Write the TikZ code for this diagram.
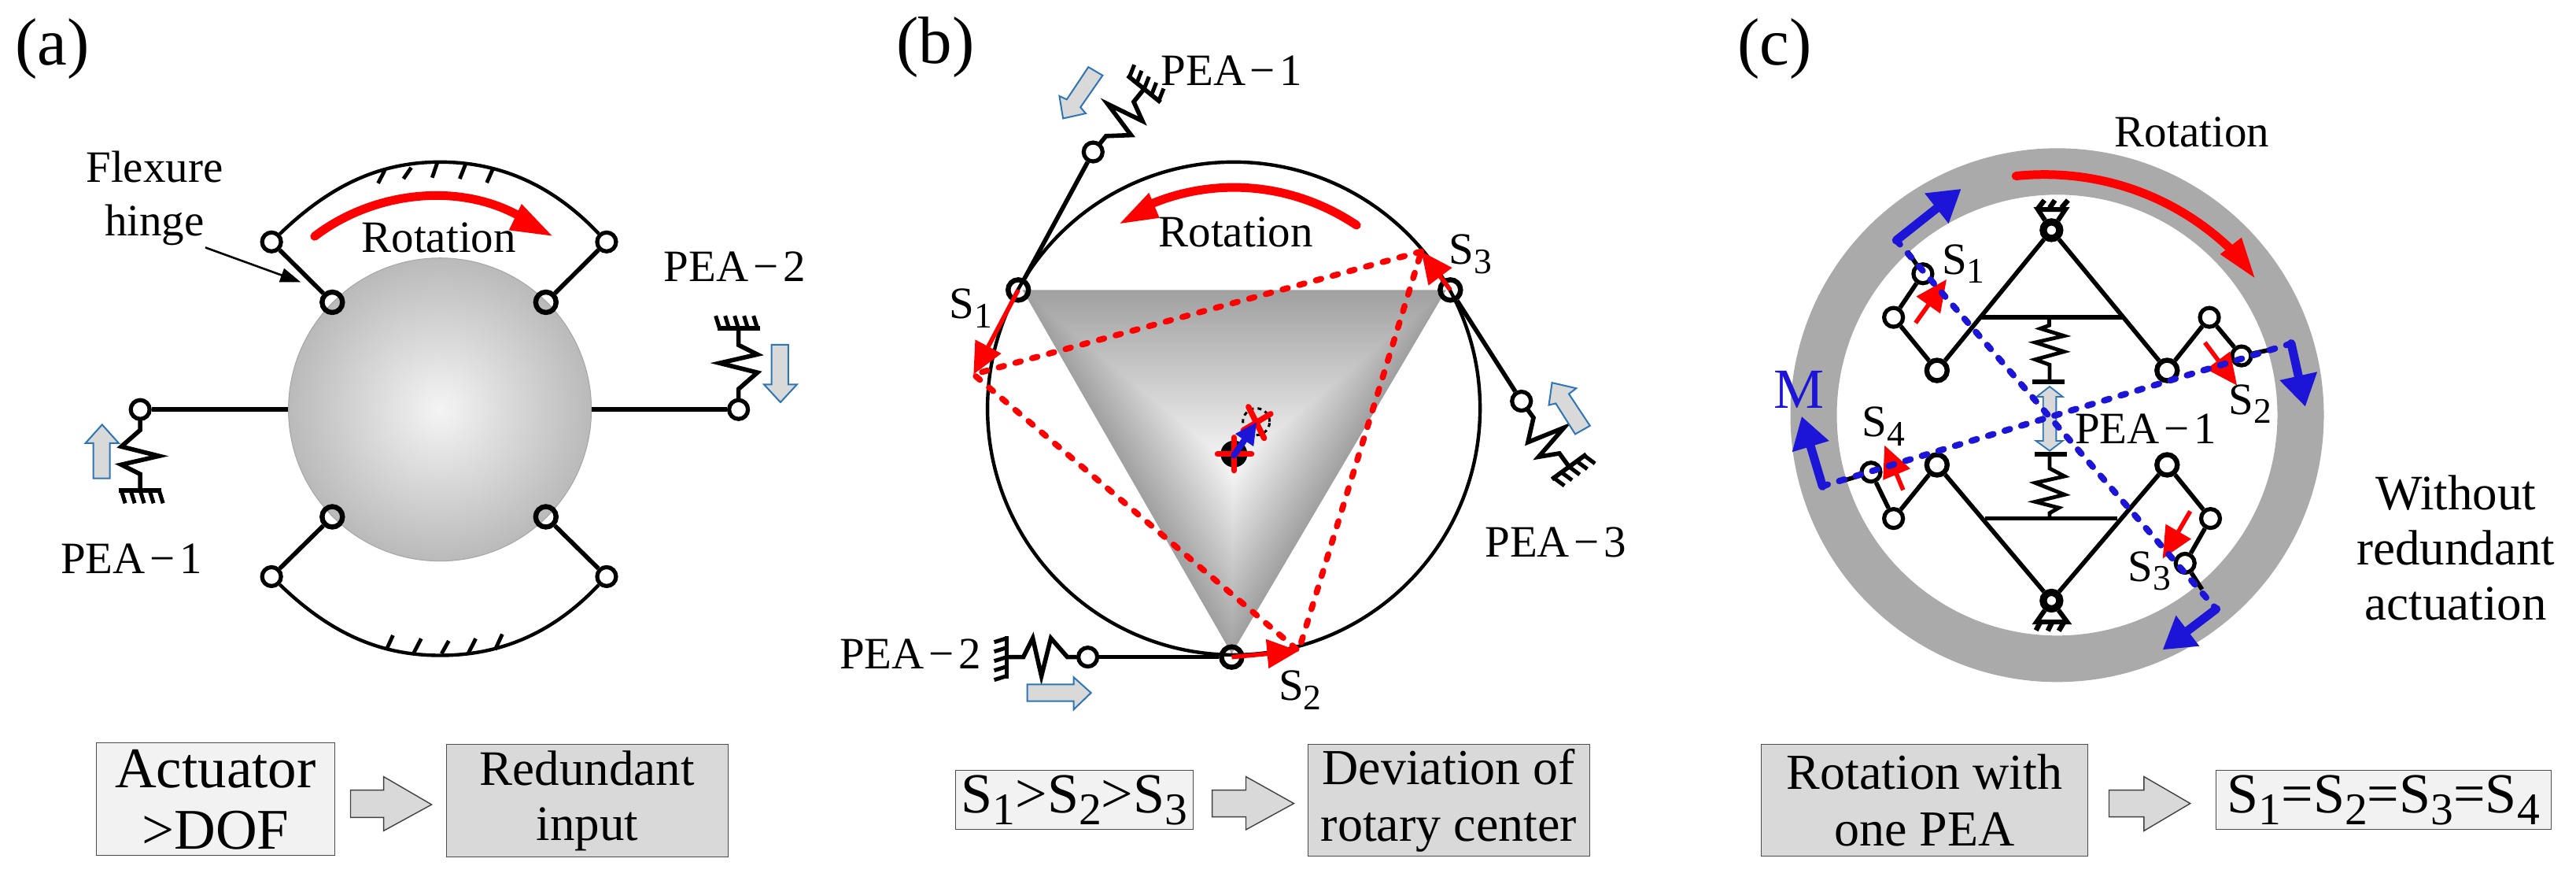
\documentclass[tikz,border=0pt]{standalone}
\usepackage{fontspec}
\usepackage{graphicx}
\setmainfont{Liberation Serif}
\usetikzlibrary{arrows.meta,calc}
\definecolor{redc}{RGB}{255,0,0}
\definecolor{bluec}{RGB}{28,20,214}
\definecolor{edgeblue}{RGB}{46,117,182}
\definecolor{lightbox}{RGB}{242,242,242}
\definecolor{darkbox}{RGB}{217,217,217}
\definecolor{ringgray}{RGB}{170,170,170}
\definecolor{discA}{RGB}{244,244,244}
\definecolor{discB}{RGB}{160,160,160}
\pgfdeclareradialshading{discshade}{\pgfpoint{0bp}{0bp}}{color(0bp)=(discA);color(36bp)=(discB);color(100bp)=(discB)}
\newcommand{\pea}[1]{PEA\kern.1em−\kern.1em#1}
\newcommand{\Sn}[1]{S\raisebox{-.2em}{\scalebox{.8}{#1}}}
\tikzset{
  link/.style={line width=2.8pt,black,line join=miter},
  arcline/.style={line width=2.2pt,black},
  hinge/.style={circle,draw=black,line width=2.6pt,fill=white,inner sep=0pt,minimum size=12pt},
  hingeT/.style={circle,draw=black,line width=3.2pt,inner sep=0pt,minimum size=13pt},
  hingeW/.style={hingeT,fill=white},
  hingeA/.style={circle,draw=black,line width=4.6pt,fill=white,inner sep=0pt,minimum size=10.5pt},
  lab/.style={font=\fontsize{28.5}{34}\selectfont,inner sep=0pt,align=center},
  biglab/.style={font=\fontsize{31.5}{35}\selectfont,inner sep=0pt,align=center},
  paneltag/.style={font=\fontsize{42.5}{46}\selectfont,inner sep=0pt},
  boxL/.style={draw=black!70,line width=.5pt,fill=lightbox,inner sep=0pt,align=center},
  boxD/.style={draw=black!70,line width=.5pt,fill=darkbox,inner sep=0pt,align=center},
  blockarrow/.style={draw=edgeblue,line width=1pt,fill=darkbox,line join=miter},
  flowarrow/.style={draw=black!75,line width=.7pt,fill=darkbox,line join=miter},
  rotline/.style={line width=5.5pt,redc,line cap=round},
  smallred/.style={line width=2.8pt,redc,-{Triangle[length=20pt,width=18pt]}},
  bigblue/.style={line width=5.5pt,bluec,line cap=round,-{Triangle[length=20pt,width=23pt]}},
  reddash/.style={line width=3.8pt,redc,line cap=round,dash pattern=on 3.5pt off 7.5pt},
  bluedash/.style={line width=4pt,bluec,line cap=round,dash pattern=on 3.5pt off 7.5pt},
  springpic/.pic={
    \draw[line width=2.8pt,x=.5pt,y=.5pt,line join=miter] (14,0)--(26,0)--(47,-24)--(59,24)--(70,-24)--(82,0)--(103,0);
    \draw[line width=2.8pt,x=.5pt,y=.5pt] (103,-27)--(103,27);
    \foreach \q in {-24,-12,0,12,24}{\draw[line width=2.5pt,x=.5pt,y=.5pt] (103,\q)--(119,\q+5);}
  }
}
\begin{document}
\begin{tikzpicture}
\useasboundingbox (0,0) rectangle (1637pt,-556.5pt);
\fill[white] (0,0) rectangle (1637pt,-556.5pt);
% ---------- panel a
\begin{scope}[x=0.35075pt,y=-0.35486pt]
\node[paneltag] (taga) at (95,88) {(a)};
\node[circle,shade,shading=discshade,draw=black!35,line width=.5pt,minimum size=192.5pt,inner sep=0pt] (disc) at (797,733) {};
\node[hinge] (ao1) at (492,433) {};
\node[hinge] (ao2) at (1099,433) {};
\node[hinge] (ao3) at (492,1032) {};
\node[hinge] (ao4) at (1099,1032) {};
\node[hingeT] (ai1) at (602,541) {};
\node[hingeT] (ai2) at (989,541) {};
\node[hingeT] (ai3) at (602,925) {};
\node[hingeT] (ai4) at (989,925) {};
\draw[link] (ao1)--(ai1) (ao2)--(ai2) (ao3)--(ai3) (ao4)--(ai4);
\draw[arcline] (ao1) .. controls (600,330) and (690,290) .. (797,290) .. controls (905,290) and (1000,330) .. (ao2);
\draw[arcline] (ao3) .. controls (600,1135) and (690,1173) .. (797,1173) .. controls (905,1173) and (1000,1135) .. (ao4);
\foreach \xa/\ya/\xb/\yb in {685/328/697/305,731/320/745/300,783/318/792/292,833/320/843/295,882/327/893/302,700/1163/712/1137,750/1168/763/1143,800/1170/813/1147,848/1170/862/1143,897/1163/910/1135}
  \draw[line width=2.4pt] (\xa,\ya)--(\xb,\yb);
\node[hinge] (apL) at (254,733) {};
\node[hinge] (apR) at (1338,733) {};
\draw[link] (disc)--(apL);
\draw[link] (disc)--(apR);
\pic[rotate=-90] at (apL) {springpic};
\pic[rotate=90] at (apR) {springpic};
\draw[blockarrow] (185,760)--(215,793)--(199,793)--(199,856)--(169,856)--(169,793)--(155,793)--cycle;
\draw[blockarrow] (1398,617)--(1428,617)--(1428,688)--(1444,688)--(1414,720)--(1384,688)--(1398,688)--cycle;
\draw[rotline] (570,423) .. controls (680,340) and (840,325) .. (950,392);
\fill[redc] (945,365)--(1000,422)--(922,412)--cycle;
\node[lab] (rota) at (795,425) {Rotation};
\node[lab] (flex) at (280,355) {Flexure\\hinge};
\coordinate (flexend) at (545,505);
\coordinate (flexstart) at (372,443);
\draw[line width=1.3pt,-{Triangle[length=13pt,width=9pt]}] (flexstart)--(flexend);
\node[lab] (peaR) at (1331,477) {\pea{2}};
\node[lab] (peaL) at (238,1000) {\pea{1}};
\node[boxL,minimum width=151.2pt,minimum height=71.3pt,font=\fontsize{36.5}{39}\selectfont] (bxa1) at (390.5,1430.5) {Actuator\\>DOF};
\node[boxD,minimum width=178.9pt,minimum height=71.7pt,font=\fontsize{31.5}{35}\selectfont] (bxa2) at (1064,1433) {Redundant\\input};
\draw[flowarrow] (635,1414)--(695,1414)--(695,1390)--(782,1440)--(695,1487)--(695,1463)--(635,1463)--cycle;
\end{scope}
% ---------- panel b
\begin{scope}[xshift=550pt,x=0.33482pt,y=-0.35486pt]
\node[paneltag] (tagb) at (133,85) {(b)};
\coordinate (V1) at (298,519);
\coordinate (V2) at (1102,519);
\coordinate (V3) at (695,1170);
\coordinate (F) at (699,835);
\foreach \i in {0,...,70}{
  \pgfmathsetmacro{\ss}{1-\i/70}
  \pgfmathsetmacro{\pp}{37-34*\i/70}
  \fill[black!\pp] ($(F)!\ss!(V1)$)--($(F)!\ss!(V2)$)--($(F)!\ss!(V3)$)--cycle;
}
\coordinate (bc) at (699,731);
\draw[line width=2.2pt] (bc) circle[radius=156.5pt];
\node[hingeT] (s1) at (290,519) {};
\node[hingeT] (s3) at (1110,519) {};
\node[hingeT] (s2) at (695,1176) {};
\node[hinge] (bp1) at (432,272) {};
\node[hinge] (bp3) at (1245,718) {};
\node[hinge] (bp2) at (422,1176) {};
\draw[link] (s1)--(bp1);
\draw[link] (s3)--(bp3);
\draw[link] (s2)--(bp2);
\pic[rotate=51] at (bp1) {springpic};
\pic[rotate=-54] at (bp3) {springpic};
\pic[rotate=180] at (bp2) {springpic};
\draw[blockarrow] (423,120)--(450,135)--(408,192)--(418,203)--(375,212)--(368,172)--(382,178)--cycle;
\draw[blockarrow] (1303,685)--(1349,695)--(1335,705)--(1375,762)--(1347,777)--(1310,722)--(1297,725)--cycle;
\draw[blockarrow] (307,1225)--(395,1225)--(395,1212)--(428,1240)--(395,1270)--(395,1255)--(307,1255)--cycle;
\coordinate (d1) at (205,670);
\coordinate (d2) at (822,1165);
\coordinate (d3) at (1055,450);
\draw[reddash] (d3)--(d1)--(d2)--(d3);
\draw[smallred] (s1.center)--(d1);
\draw[smallred] (s2.center)--(d2);
\draw[smallred] (s3.center)--(d3);
\draw[rotline] (932,403) .. controls (800,320) and (650,320) .. (535,368);
\fill[redc] (538,345)--(483,400)--(558,390)--cycle;
\node[lab] (rotb) at (703,415) {Rotation};
\node[lab] (bs1) at (200,552) {\Sn{1}};
\node[lab] (bs3) at (1148,455) {\Sn{3}};
\node[lab] (bs2) at (825,1235) {\Sn{2}};
\node[lab] (bpea1) at (695,127) {\pea{1}};
\node[lab] (bpea3) at (1310,970) {\pea{3}};
\node[lab] (bpea2) at (85,1170) {\pea{2}};
\node[boxL,minimum width=151pt,minimum height=37.6pt,font=\fontsize{36}{39}\selectfont] (bxb1) at (396.5,1432) {\Sn{1}>\Sn{2}>\Sn{3}};
\node[boxD,minimum width=178.8pt,minimum height=71.3pt,font=\fontsize{32}{36}\selectfont] (bxb2) at (1107,1432.5) {Deviation of\\rotary center};
\draw[flowarrow] (658,1414)--(722,1414)--(722,1390)--(813,1438)--(722,1485)--(722,1462)--(658,1462)--cycle;
\end{scope}
% ---------- centre detail of b
\begin{scope}[xshift=725pt,yshift=-235pt,x=0.16667pt,y=-0.16667pt]
\fill[black] (355,320) circle[radius=8.5pt];
\draw[line width=1.5pt,dash pattern=on 2.5pt off 2.5pt] (440,197) circle[radius=8.5pt];
\draw[line width=3.6pt,redc,line cap=round] (292,320)--(422,320) (355,257)--(355,383);
\draw[line width=3.6pt,redc,line cap=round] (410,140)--(470,260) (390,230)--(495,167);
\draw[line width=4pt,bluec,line cap=round,-{Triangle[length=14pt,width=13pt]}] (355,325)--(442,198);
\end{scope}
% ---------- panel c
\begin{scope}[xshift=1075pt,x=0.35842pt,y=-0.35486pt]
\node[paneltag] (tagc) at (147,88) {(c)};
\coordinate (rc) at (648,743);
\path[fill=ringgray,even odd rule] (rc) circle[radius=169.5pt] (rc) circle[radius=140pt];
\draw[rotline] (575,315) .. controls (720,300) and (860,350) .. (962,452);
\fill[redc] (975,425)--(998,497)--(937,455)--cycle;
\node[hingeA] (c0) at (638,412) {};
\node[hingeA] (c00) at (638,1075) {};
\node[hingeW] (c1) at (435,663) {};
\node[hingeW] (c2) at (843,663) {};
\node[hingeW] (c3) at (435,832) {};
\node[hingeW] (c4) at (843,832) {};
\node[hinge] (c5) at (358,568) {};
\node[hinge] (c6) at (918,568) {};
\node[hinge] (c7) at (358,928) {};
\node[hinge] (c8) at (920,928) {};
\node[hinge] (c9) at (410,490) {};
\node[hinge] (c10) at (975,637) {};
\node[hinge] (c11) at (318,845) {};
\node[hinge] (c12) at (875,1008) {};
\draw[link] (c0)--(c1);
\draw[link] (c0)--(c2);
\draw[link] (c00)--(c3);
\draw[link] (c00)--(c4);
\draw[link] (c1)--(c5) (c5)--(c9) (c2)--(c6) (c6)--(c10) (c3)--(c7) (c7)--(c11) (c4)--(c8) (c8)--(c12);
\coordinate (t1) at (383,450);
\coordinate (t2) at (1030,625);
\coordinate (t3) at (270,860);
\coordinate (t4) at (905,1055);
\draw[link] (c9)--(t1) (c10)--(t2) (c11)--(t3) (c12)--(t4);
\coordinate (b1) at (513,568);
\coordinate (b2) at (765,568);
\coordinate (b3) at (520,928);
\coordinate (b4) at (755,928);
\draw[link] (b1)--(b2) (b3)--(b4);
\end{scope}
% grounds of the two apex hinges
\begin{scope}[xshift=1270pt,yshift=-110pt,x=0.16667pt,y=-0.16667pt]
\coordinate (g1) at (150,138);
\coordinate (g2) at (255,138);
\draw[line width=3pt,line join=miter] (c0)--(g1)--(g2)--(c0);
\draw[line width=3.2pt] (150,135)--(175,103) (195,132)--(215,103) (240,132)--(265,103);
\end{scope}
\begin{scope}[xshift=1270pt,yshift=-370pt,x=0.16667pt,y=-0.16667pt]
\coordinate (g3) at (145,150);
\coordinate (g4) at (262,150);
\draw[line width=3pt,line join=miter] (c00)--(g3)--(g4)--(c00);
\draw[line width=3.2pt] (160,150)--(143,182) (205,150)--(188,184) (250,150)--(230,184);
\end{scope}
\begin{scope}[xshift=1225pt,yshift=-150pt,x=0.16667pt,y=-0.16667pt]
\draw[link,line width=2.4pt] (463,315)--(463,340)--(430,352)--(520,380)--(410,405)--(520,440)--(410,470)--(465,490)--(465,555);
\draw[link,line width=3pt] (400,555)--(522,555);
\draw[link,line width=3pt] (408,832)--(530,832);
\draw[link,line width=2.4pt] (465,832)--(465,885)--(522,915)--(410,940)--(522,985)--(410,1012)--(500,1035)--(465,1055)--(465,1075);
\draw[blockarrow,line width=.9pt] (465,573)--(515,612)--(490,612)--(490,780)--(515,780)--(465,818)--(413,780)--(440,780)--(440,612)--(415,612)--cycle;
\end{scope}
\begin{scope}[xshift=1075pt,x=0.35842pt,y=-0.35486pt]
\draw[smallred] (397,578)--(452,500);
\draw[smallred] (910,613)--(967,690);
\draw[smallred] (884,915)--(835,1000);
\draw[smallred] (375,877)--(342,797);
\coordinate (ba1) at (363,430);
\coordinate (ba2) at (478,338);
\coordinate (ba3) at (1063,615);
\coordinate (ba4) at (1088,728);
\coordinate (ba5) at (930,1090);
\coordinate (ba6) at (835,1163);
\coordinate (ba7) at (232,870);
\coordinate (ba8) at (195,745);
\draw[bluedash] (ba1)--(ba5);
\draw[bluedash] (ba7)--(ba3);
\draw[bigblue] (ba1)--(ba2);
\draw[bigblue] (ba3)--(ba4);
\draw[bigblue] (ba5)--(ba6);
\draw[bigblue] (ba7)--(ba8);
\node[lab] (rotc) at (887,237) {Rotation};
\node[lab] (cs1) at (482,472) {\Sn{1}};
\node[lab] (cs2) at (990,723) {\Sn{2}};
\node[lab] (cs3) at (812,1022) {\Sn{3}};
\node[lab] (cs4) at (340,763) {\Sn{4}};
\node[lab,font=\fontsize{36}{38}\selectfont,text=bluec] (cm) at (190,698) {M};
\node[lab] (cpea) at (805,767) {\pea{1}};
\node[biglab] (wo) at (1355,980) {Without\\redundant\\actuation};
\node[boxD,minimum width=207.2pt,minimum height=71.3pt,font=\fontsize{32}{36}\selectfont] (bxc1) at (413,1432.5) {Rotation with\\one PEA};
\node[boxL,minimum width=213.2pt,minimum height=37.6pt,font=\fontsize{36}{39}\selectfont] (bxc2) at (1226.5,1432) {\Sn{1}=\Sn{2}=\Sn{3}=\Sn{4}};
\draw[flowarrow] (740,1414)--(802,1414)--(802,1390)--(884,1438)--(802,1487)--(802,1462)--(740,1462)--cycle;
\end{scope}
\end{tikzpicture}
\end{document}
